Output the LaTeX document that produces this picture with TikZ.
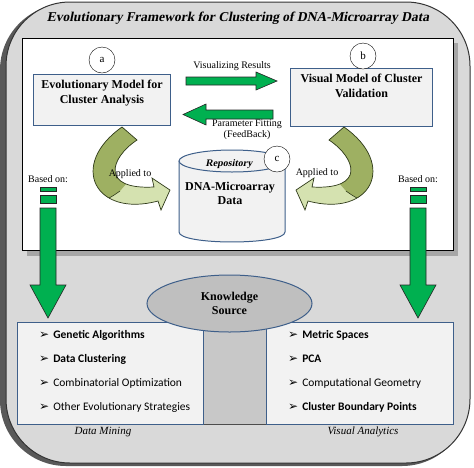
\documentclass[tikz,border=0pt]{standalone}
\usepackage{fontspec}
\setmainfont{Liberation Serif}[BoldItalicFont={Liberation Serif Bold}, BoldItalicFeatures={FakeSlant=0.2}]
\newfontfamily\calibri{Carlito}
\newfontfamily\dingfont{DejaVu Sans}
\usepackage{tikz}
\usetikzlibrary{shapes.geometric,positioning}
\definecolor{frameGray}{HTML}{D9D9D9}
\definecolor{linkGray}{HTML}{C8C8C8}
\definecolor{boxBlue}{HTML}{3E5F8A}
\definecolor{boxFill}{HTML}{F2F2F2}
\definecolor{arrowGreen}{HTML}{00B050}
\definecolor{ribbonDark}{HTML}{9EB062}
\definecolor{ribbonLight}{HTML}{D5E2B0}
\definecolor{ribbonEdge}{HTML}{2F3A1A}
\tikzstyle{block} = [rectangle, draw=boxBlue, fill=boxFill, line width=1pt, anchor=north west]
\tikzstyle{tag} = [circle, draw=black, fill=white, minimum size=26pt, inner sep=0pt, font=\fontsize{11}{12}\selectfont]
\tikzstyle{fat} = [draw=black!85, fill=arrowGreen, line width=0.6pt]
\tikzstyle{item} = [anchor=west, inner sep=0pt, font=\calibri\fontsize{11.5}{13}\selectfont]
\tikzstyle{note} = [inner sep=1pt, font=\fontsize{10}{11}\selectfont, align=center]
\newcommand{\bul}{{\dingfont\fontsize{12}{13}\selectfont ➢}\hspace{4pt}}
\def\ribbonoutline{(122,127) -- (137,140) .. controls (110,158) and (100,190) .. (154,187) -- (152,178) -- (170,190) -- (161,210) -- (158,201) .. controls (95,218) and (68,165) .. cycle}
\tikzset{ribbon/.pic={
  \fill[ribbonLight] \ribbonoutline;
  \begin{scope}
    \clip \ribbonoutline;
    \fill[ribbonDark] (60,110) -- (160,110) -- (140,168) -- (120,191) .. controls (110,198) .. (92,206) -- (60,206) -- cycle;
    \draw[ribbonEdge, line width=0.6pt] (120,191) .. controls (110,198) .. (92,206);
  \end{scope}
  \draw[ribbonEdge, line width=0.7pt] \ribbonoutline;
}}

\begin{document}
\begin{tikzpicture}[x=1pt, y=-1pt]
\useasboundingbox (0,0) rectangle (474,467);
% outer frame
\fill[black!65, rounded corners=66pt] (0,4) rectangle (468,466);
\draw[fill=frameGray, draw=black!80, line width=1pt, rounded corners=64pt] (6,2) rectangle (470,463);
\node (title) at (238,18) {\fontsize{13.5}{15}\selectfont\bfseries\itshape Evolutionary Framework for Clustering of DNA-Microarray Data};

% white panel
\fill[black!35] (27,43) rectangle (458,256);
\draw[fill=white, line width=0.8pt] (22,38) rectangle (453,250);

% models
\node (evo) [block, minimum width=137pt, minimum height=51pt] at (33,74) {};
\node (evotxt) [below=3pt of evo.north, align=center, font=\fontsize{12}{14.5}\selectfont\bfseries] {Evolutionary Model for\\Cluster Analysis};
\node (vis) [block, minimum width=142pt, minimum height=58pt] at (290,68) {};
\node (vistxt) [below=3pt of vis.north, align=center, font=\fontsize{12}{14.5}\selectfont\bfseries] {Visual Model of Cluster\\Validation};
\node (taga) [tag] at (102,60) {a};
\node (tagb) [tag] at (363,56) {b};

% exchange arrows
\draw[fat] (186,77) -- (256,77) -- (256,72) -- (277,81) -- (256,90) -- (256,85) -- (186,85) -- cycle;
\node (visres) [note] at (232,66) {Visualizing Results};
\draw[fat] (273,110) -- (206,110) -- (206,104) -- (183,114.5) -- (206,125) -- (206,119) -- (273,119) -- cycle;
\node (param) [note] at (247,130) {Parameter Fitting\\(FeedBack)};

% repository
\fill[boxFill] (179,161) -- (179,232) .. controls (179,245.3) and (285,245.3) .. (285,232) -- (285,161) -- cycle;
\draw[boxBlue, line width=1pt] (179,161) -- (179,232) .. controls (179,245.3) and (285,245.3) .. (285,232) -- (285,161);
\draw[boxBlue, line width=1pt, fill=boxFill] (232,161) ellipse [x radius=53, y radius=11];
\node (repo) [font=\fontsize{10}{11}\selectfont\bfseries\itshape] at (229,164) {Repository};
\node (dna) [align=center, font=\fontsize{12}{14}\selectfont\bfseries] at (230,193) {DNA-Microarray\\Data};
\node (tagc) [tag] at (277,159) {c};

% applied to
\pic (lapp) at (0,0) {ribbon};
\pic (rapp) [xscale=-1] at (466,0) {ribbon};
\node (appl) [note] at (130,174) {Applied to};
\node (appr) [note] at (317,173) {Applied to};

% based on
\node (basel) [note] at (48,179) {Based on:};
\node (baser) [note] at (418,179) {Based on:};
\foreach \cx in {48,418} {
  \draw[fat] ({\cx-8},187) rectangle ({\cx+8},191);
  \draw[fat] ({\cx-8},195) rectangle ({\cx+8},203);
  \draw[fat] ({\cx-8},208) -- ({\cx-8},285) -- ({\cx-18},285) -- (\cx,318) -- ({\cx+18},285) -- ({\cx+8},285) -- ({\cx+8},208) -- cycle;
}

% knowledge boxes
\draw[fill=linkGray, draw=black!70, line width=0.8pt] (203,322) rectangle (266,424);
\node (mining) [block, minimum width=186pt, minimum height=102pt] at (17,322) {};
\node (visual) [block, minimum width=187pt, minimum height=102pt] at (266,322) {};
\node (know) [ellipse, draw=boxBlue, fill=black!25, line width=1pt, minimum width=165pt, minimum height=57pt, align=center, font=\fontsize{12}{14}\selectfont\bfseries] at (229.5,303.5) {Knowledge\\Source};

\node (gen) [item] at (39,335) {\bul\bfseries Genetic Algorithms};
\node (clu) [item] at (39,359) {\bul\bfseries Data Clustering};
\node (comb) [item] at (39,383) {\bul Combinatorial Optimization};
\node (other) [item] at (39,407) {\bul Other Evolutionary Strategies};
\node (metric) [item] at (288,335) {\bul\bfseries Metric Spaces};
\node (pca) [item] at (288,359) {\bul\bfseries PCA};
\node (geom) [item] at (288,383) {\bul Computational Geometry};
\node (bound) [item] at (288,407) {\bul\bfseries Cluster Boundary Points};

\node (dm) [font=\fontsize{11}{12}\selectfont\itshape] at (103,432) {Data Mining};
\node (va) [font=\fontsize{11}{12}\selectfont\itshape] at (363,432) {Visual Analytics};
\end{tikzpicture}
\end{document}
